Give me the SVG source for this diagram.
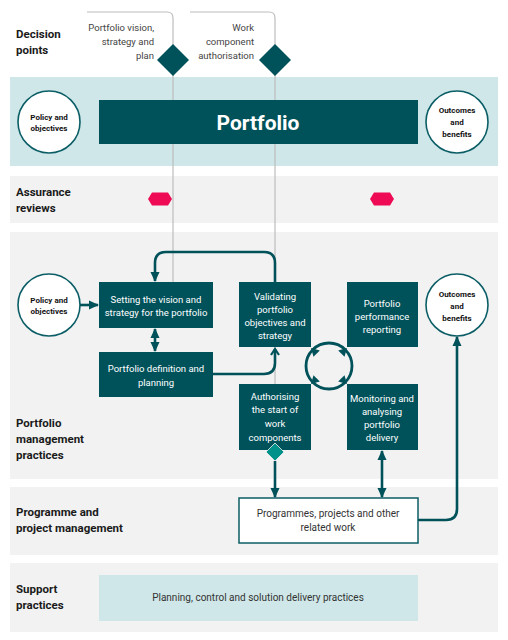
<svg xmlns="http://www.w3.org/2000/svg" width="508" height="640" viewBox="0 0 508 640">
<style>
.band{fill:#f2f2f2}
.tealband{fill:#cfe7e8}
.box{fill:#00525a}
.lbl{font-family:Roboto,"Liberation Sans",sans-serif;font-weight:bold;font-size:11.5px;fill:#1a1a1a}
.bt{font-family:Roboto,"Liberation Sans",sans-serif;font-size:9.5px;fill:#ffffff;text-anchor:middle}
.dt{font-family:Roboto,"Liberation Sans",sans-serif;font-size:10px;fill:#333333;text-anchor:middle}
.tt{font-family:Roboto,"Liberation Sans",sans-serif;font-size:9.5px;fill:#444444;text-anchor:end}
.ct{font-family:Roboto,"Liberation Sans",sans-serif;font-weight:bold;font-size:8px;fill:#111111;text-anchor:middle}
.circ{fill:#ffffff;stroke:#0b5e66;stroke-width:1.6}
.gl{fill:none;stroke:#bdbdbd;stroke-width:1.2}
.cn{fill:none;stroke:#00525a;stroke-width:2.6}
.hex{fill:#ee0a55}
</style>
<defs>
<marker id="ah" viewBox="0 0 10 10" refX="9" refY="5" markerWidth="10" markerHeight="10" markerUnits="userSpaceOnUse" orient="auto-start-reverse"><path d="M0,0.5 L10,5 L0,9.5 z" fill="#00525a"/></marker>
<marker id="chev" viewBox="0 0 10 10" refX="8" refY="5" markerWidth="10" markerHeight="10" markerUnits="userSpaceOnUse" orient="auto"><path d="M2,1 L8,5 L2,9" fill="none" stroke="#00525a" stroke-width="2.2"/></marker>
<path id="tri" d="M0,0 L8,-4.5 L8,4.5 z" fill="#00525a"/>
</defs>

<!-- bands -->
<rect class="tealband" x="10" y="77" width="488" height="89"/>
<rect class="band" x="10" y="176" width="488" height="47"/>
<rect class="band" x="10" y="232" width="488" height="247"/>
<rect class="band" x="10" y="487" width="488" height="68"/>
<rect class="band" x="10" y="563" width="488" height="69"/>

<!-- band labels -->
<text class="lbl" x="16" y="38">Decision</text>
<text class="lbl" x="16" y="54">points</text>
<text class="lbl" x="16" y="196">Assurance</text>
<text class="lbl" x="16" y="212">reviews</text>
<text class="lbl" x="16" y="427">Portfolio</text>
<text class="lbl" x="16" y="443">management</text>
<text class="lbl" x="16" y="459">practices</text>
<text class="lbl" x="16" y="516">Programme and</text>
<text class="lbl" x="16" y="532">project management</text>
<text class="lbl" x="16" y="593">Support</text>
<text class="lbl" x="16" y="609">practices</text>

<!-- decision point texts -->
<text class="tt" x="154" y="31">Portfolio vision,</text>
<text class="tt" x="154" y="45">strategy and</text>
<text class="tt" x="154" y="59">plan</text>
<text class="tt" x="254" y="31">Work</text>
<text class="tt" x="254" y="45">component</text>
<text class="tt" x="254" y="59">authorisation</text>

<!-- gray decision lines -->
<g id="decision-lines">
<path class="gl" d="M87,12 H167 Q173,12 173,18 V282"/>
<path class="gl" d="M190,12 H269 Q275,12 275,18 V384"/>
</g>

<!-- decision diamonds -->
<g id="dp-vision"><polygon points="173,44 189,60 173,76 157,60" fill="#00525a"/></g>
<g id="dp-work"><polygon points="275,44 291,60 275,76 259,60" fill="#00525a"/></g>

<!-- Portfolio band -->
<g id="portfolio"><rect class="box" x="99" y="100" width="319" height="44"/>
<text x="258" y="130" font-family="Roboto,'Liberation Sans',sans-serif" font-weight="bold" font-size="21" fill="#ffffff" text-anchor="middle">Portfolio</text></g>
<g id="policy-top"><circle class="circ" cx="49" cy="122" r="31"/>
<text class="ct" x="49" y="120">Policy and</text><text class="ct" x="49" y="131">objectives</text></g>
<g id="outcomes-top"><circle class="circ" cx="457" cy="122" r="31"/>
<text class="ct" x="457" y="113">Outcomes</text><text class="ct" x="457" y="125">and</text><text class="ct" x="457" y="137">benefits</text></g>

<!-- assurance reviews -->
<g id="review-1"><polygon class="hex" points="148,199 152,192.5 168,192.5 172,199 168,205.5 152,205.5"/></g>
<g id="review-2"><polygon class="hex" points="370,199 374,192.5 390,192.5 394,199 390,205.5 374,205.5"/></g>

<!-- practice nodes -->
<g id="policy-mid"><circle class="circ" cx="49" cy="305" r="31"/>
<text class="ct" x="49" y="303">Policy and</text><text class="ct" x="49" y="314">objectives</text></g>
<g id="outcomes-mid"><circle class="circ" cx="457" cy="305" r="31"/>
<text class="ct" x="457" y="297">Outcomes</text><text class="ct" x="457" y="309">and</text><text class="ct" x="457" y="321">benefits</text></g>

<g id="setting"><rect class="box" x="99" y="282" width="114" height="46"/>
<text class="bt" x="156" y="303">Setting the vision and</text><text class="bt" x="156" y="316">strategy for the portfolio</text></g>
<g id="definition"><rect class="box" x="99" y="352" width="114" height="45"/>
<text class="bt" x="156" y="372">Portfolio definition and</text><text class="bt" x="156" y="386">planning</text></g>
<g id="validating"><rect class="box" x="239" y="282" width="72" height="65"/>
<text class="bt" x="275" y="300">Validating</text><text class="bt" x="275" y="313">portfolio</text><text class="bt" x="275" y="326">objectives and</text><text class="bt" x="275" y="339">strategy</text></g>
<g id="authorising"><rect class="box" x="239" y="384" width="72" height="66"/>
<text class="bt" x="275" y="400">Authorising</text><text class="bt" x="275" y="413">the start of</text><text class="bt" x="275" y="427">work</text><text class="bt" x="275" y="441">components</text></g>
<g id="reporting"><rect class="box" x="347" y="282" width="71" height="65"/>
<text class="bt" x="382" y="307">Portfolio</text><text class="bt" x="382" y="320">performance</text><text class="bt" x="382" y="333">reporting</text></g>
<g id="monitoring"><rect class="box" x="347" y="384" width="71" height="66"/>
<text class="bt" x="382" y="402">Monitoring and</text><text class="bt" x="382" y="415">analysing</text><text class="bt" x="382" y="428">portfolio</text><text class="bt" x="382" y="441">delivery</text></g>

<g id="programmes"><rect x="239" y="498" width="179" height="45" fill="#ffffff" stroke="#0b5e66" stroke-width="1.5"/>
<text class="dt" x="328" y="517">Programmes, projects and other</text><text class="dt" x="328" y="531">related work</text></g>

<g id="support"><rect x="99" y="575" width="319" height="46" fill="#cfe7e8"/>
<text class="dt" x="258" y="601">Planning, control and solution delivery practices</text></g>

<!-- connectors -->
<g id="connectors">
<path class="cn" d="M80,305 H98" marker-end="url(#ah)"/>
<path class="cn" d="M155,329 V351" marker-start="url(#ah)" marker-end="url(#ah)"/>
<path class="cn" d="M275,282 V263 Q275,252 264,252 H166 Q155,252 155,263 V281" marker-end="url(#ah)"/>
<path class="cn" d="M213,374 H264 Q275,374 275,363 V349" marker-end="url(#chev)"/>
<path class="cn" d="M275,461 V497" marker-end="url(#ah)"/>
<path class="cn" d="M382,451 V497" marker-start="url(#ah)" marker-end="url(#ah)"/>
<path class="cn" d="M418,520 H446 Q457,520 457,509 V337" marker-end="url(#ah)"/>
<circle cx="329" cy="366" r="23" fill="none" stroke="#00525a" stroke-width="2.8"/>
<use href="#tri" transform="translate(311,348) rotate(45)"/>
<use href="#tri" transform="translate(347,348) rotate(135)"/>
<use href="#tri" transform="translate(347,384) rotate(225)"/>
<use href="#tri" transform="translate(311,384) rotate(-45)"/>
</g>

<g id="auth-diamond"><polygon points="275,443 284,452 275,461 266,452" fill="#00918a" stroke="#f2f2f2" stroke-width="0.8"/></g>
</svg>
